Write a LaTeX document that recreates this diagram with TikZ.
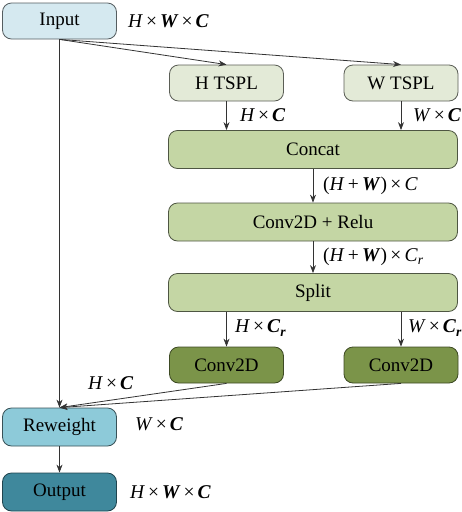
\documentclass[tikz,border=0pt]{standalone}
\usepackage{fontspec}
\setmainfont{Liberation Serif}
\usepackage{tikz}
\usetikzlibrary{arrows.meta,positioning}

\definecolor{inblue}{HTML}{D5E9F0}
\definecolor{tsplgreen}{HTML}{E3EAD7}
\definecolor{midgreen}{HTML}{C4D6A4}
\definecolor{convgreen}{HTML}{7B9449}
\definecolor{rwblue}{HTML}{8DCAD9}
\definecolor{outblue}{HTML}{3F889C}
\definecolor{linegray}{HTML}{333333}

\newcommand{\bi}[1]{\textbf{\textit{#1}}}
\newcommand{\tm}{\hspace{3pt}×\hspace{3pt}}

\begin{document}
\begin{tikzpicture}[x=1pt, y=-1pt, font=\fontsize{19}{21}\selectfont, >={Stealth[length=8pt,width=6pt]},
    box/.style={draw, rounded corners=9pt, line width=0.8pt, inner sep=0pt, minimum height=36pt},
    smallbox/.style={box, minimum width=114pt},
    widebox/.style={box, minimum width=289pt, minimum height=38pt},
    conn/.style={->, linegray, line width=0.8pt},
    dim/.style={anchor=west, inner sep=0pt, font=\fontsize{19.5}{21}\selectfont}]
    \useasboundingbox (0,0) rectangle (462,512);

    % Boxes
    \node[smallbox, fill=inblue, draw=inblue!40!black] (in) at (59.5,21) {Input};
    \node[smallbox, fill=tsplgreen, draw=tsplgreen!40!black] (htspl) at (226.5,83) {H TSPL};
    \node[smallbox, fill=tsplgreen, draw=tsplgreen!40!black] (wtspl) at (401,83) {W TSPL};
    \node[widebox, fill=midgreen, draw=midgreen!40!black] (concat) at (313,149.5) {Concat};
    \node[widebox, fill=midgreen, draw=midgreen!40!black] (relu) at (313,222) {Conv2D + Relu};
    \node[widebox, fill=midgreen, draw=midgreen!40!black] (split) at (313,292.5) {Split};
    \node[smallbox, fill=convgreen, draw=convgreen!50!black] (hconv) at (226.5,365) {Conv2D};
    \node[smallbox, fill=convgreen, draw=convgreen!50!black] (wconv) at (401,365) {Conv2D};
    \node[smallbox, minimum height=38pt, fill=rwblue, draw=rwblue!40!black] (rw) at (59.5,427) {Reweight};
    \node[smallbox, minimum height=38pt, fill=outblue, draw=outblue!50!black] (out) at (59.5,492) {Output};

    % Connectors
    \draw[conn] (in.south) -- (htspl.north);
    \draw[conn] (in.south) -- (wtspl.north);
    \draw[conn] (in.south) -- (rw.north);
    \draw[conn] (htspl.south) -- (htspl.south |- concat.north);
    \draw[conn] (wtspl.south) -- (wtspl.south |- concat.north);
    \draw[conn] (concat) -- (relu);
    \draw[conn] (relu) -- (split);
    \draw[conn] (split.south -| hconv) -- (hconv.north);
    \draw[conn] (split.south -| wconv) -- (wconv.north);
    \draw[conn] (hconv.south) -- (rw.north);
    \draw[conn] (wconv.south) -- (rw.north);
    \draw[conn] (rw) -- (out);

    % Dimensions
    \node[dim] (din) at (128,21) {\textit{H}\tm\bi{W}\tm\bi{C}};
    \node[dim] (dh) at (240,115) {\textit{H}\tm\bi{C}};
    \node[dim] (dw) at (413,115) {\textit{W}\tm\bi{C}};
    \node[dim] (dcat) at (323,186) {(\textit{H}\,+\,\bi{W})\,×\,\textit{C}};
    \node[dim] (drelu) at (323,257) {(\textit{H}\,+\,\bi{W})\,×\,\textit{C}\textsubscript{\textit{r}}};
    \node[dim] (dsh) at (235,328) {\textit{H}\tm\bi{C}\textsubscript{\bi{r}}};
    \node[dim] (dsw) at (408,328) {\textit{W}\tm\bi{C}\textsubscript{\bi{r}}};
    \node[dim] (drh) at (88,383) {\textit{H}\tm\bi{C}};
    \node[dim] (drw) at (135,424) {\textit{W}\tm\bi{C}};
    \node[dim] (dout) at (130,492) {\textit{H}\tm\bi{W}\tm\bi{C}};
\end{tikzpicture}
\end{document}
